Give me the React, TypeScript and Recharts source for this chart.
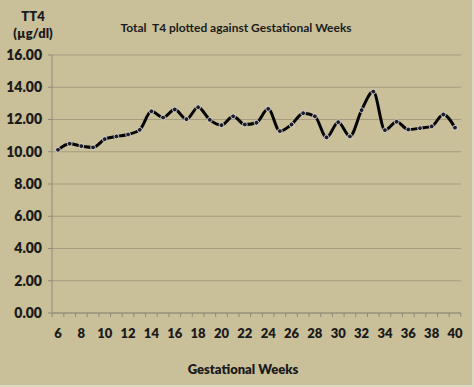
import { CartesianGrid, Line, LineChart, XAxis, YAxis } from 'recharts'

const WEEKS = [
  6, 7, 8, 9, 10, 11, 12, 13, 14, 15, 16, 17, 18, 19, 20, 21, 22, 23,
  24, 25, 26, 27, 28, 29, 30, 31, 32, 33, 34, 35, 36, 37, 38, 39, 40,
]
const TT4 = [
  10.12, 10.5, 10.35, 10.27, 10.78, 10.95, 11.07, 11.36, 12.51, 12.12, 12.62, 12.02,
  12.76, 11.98, 11.65, 12.2, 11.69, 11.8, 12.66, 11.28, 11.69, 12.39, 12.2, 10.89,
  11.83, 10.95, 12.58, 13.73, 11.34, 11.86, 11.38, 11.46, 11.57, 12.31, 11.49,
]
const Y_TICKS = [0, 2, 4, 6, 8, 10, 12, 14, 16]

const BG = '#c9c09a'
const GRID = '#a59d7d'
const AXIS = '#8e8a78'
const TEXT = '#1b1b1b'
const FONT = 'Lato, "Open Sans", sans-serif'

const data = WEEKS.map((w, i) => ({ week: w, tt4: TT4[i] }))

// Excel-style category axis: tick marks sit between categories, labels on every other week
function WeekTick(props: any) {
  const { x, y, payload, index } = props
  const half = 408 / WEEKS.length / 2
  const last = index === WEEKS.length - 1
  return (
    <g>
      <line x1={x - half} x2={x - half} y1={y - 8} y2={y - 4} stroke={AXIS} />
      {last && <line x1={x + half} x2={x + half} y1={y - 8} y2={y - 4} stroke={AXIS} />}
      {index % 2 === 0 && (
        <text x={x} y={y + 17} textAnchor="middle" fill={TEXT} fontSize={13} fontWeight={800} fontFamily={FONT}>
          {payload.value}
        </text>
      )}
    </g>
  )
}

export default function App() {
  return (
    <div
      style={{
        position: 'fixed',
        top: 0,
        left: 0,
        width: 474,
        height: 387,
        background: BG,
        boxSizing: 'border-box',
        borderRight: '2px solid #ddd8c0',
        borderBottom: '2px solid #ddd8c0',
        fontFamily: FONT,
      }}
    >
      <div style={{ position: 'absolute', top: 8, left: 8, width: 50, textAlign: 'center', color: TEXT, fontSize: 13, fontWeight: 800, lineHeight: '17px' }}>
        TT4
        <br />
        (µg/dl)
      </div>
      <div style={{ position: 'absolute', top: 20, left: 0, width: 472, textAlign: 'center', color: TEXT, fontSize: 12, fontWeight: 700 }}>
        Total&nbsp; T4 plotted against Gestational Weeks
      </div>
      <div style={{ position: 'absolute', top: 361, left: 0, width: 486, textAlign: 'center', color: TEXT, fontSize: 13, fontWeight: 800 }}>
        Gestational Weeks
      </div>
      <LineChart width={474} height={387} data={data} margin={{ top: 55, right: 13, bottom: 0, left: 0 }}>
        <CartesianGrid vertical={false} stroke={GRID} strokeWidth={1.2} />
        <XAxis
          dataKey="week"
          interval={0}
          height={74}
          padding={{ left: 6, right: 6 }}
          axisLine={{ stroke: AXIS }}
          tickLine={false}
          tick={<WeekTick />}
        />
        <YAxis
          domain={[0, 16]}
          ticks={Y_TICKS}
          width={52}
          axisLine={{ stroke: AXIS }}
          tickLine={{ stroke: AXIS }}
          tickSize={4}
          tickMargin={6}
          tickFormatter={(v) => Number(v).toFixed(2)}
          tick={{ fill: TEXT, fontSize: 14, fontWeight: 800, fontFamily: FONT }}
        />
        <Line
          type="monotone"
          dataKey="tt4"
          stroke="#050505"
          strokeWidth={3}
          dot={{ r: 2.4, fill: '#1c1c2c', stroke: '#e6e6e6', strokeWidth: 0.8 }}
          isAnimationActive={false}
        />
      </LineChart>
    </div>
  )
}
